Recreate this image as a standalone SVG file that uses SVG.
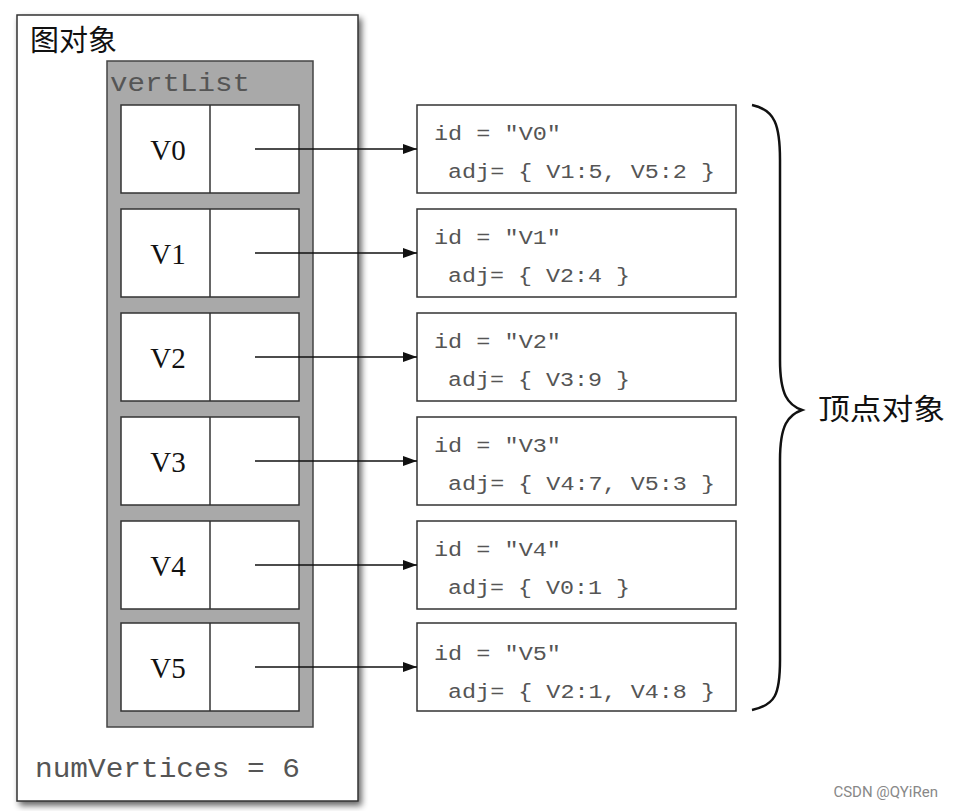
<svg xmlns="http://www.w3.org/2000/svg" width="953" height="811" viewBox="0 0 953 811">
<defs>
<style>
.cell{fill:#fff;stroke:#333;stroke-width:1.5}
.vl{font-family:"Liberation Serif",serif;font-size:29px;fill:#111;text-anchor:middle}
.mono{font-family:"Liberation Mono",monospace;font-size:20px;fill:#555}
.cn{font-family:"Noto Sans CJK SC",sans-serif;font-size:29px;fill:#111}
.ob{fill:#fff;stroke:#333;stroke-width:1.5}
</style>
<marker id="ah" markerWidth="14" markerHeight="10" refX="14" refY="5" orient="auto" markerUnits="userSpaceOnUse"><path d="M0,0L14,5L0,10z" fill="#111"/></marker>
<filter id="sh" x="-10%" y="-10%" width="120%" height="120%"><feGaussianBlur in="SourceAlpha" stdDeviation="3"/><feOffset dx="3" dy="4"/><feComponentTransfer><feFuncA type="linear" slope="0.6"/></feComponentTransfer><feMerge><feMergeNode/><feMergeNode in="SourceGraphic"/></feMerge></filter>
</defs>
<rect width="953" height="811" fill="#fff"/>
<g id="graph">
<rect x="17" y="15" width="341" height="786" fill="#fff" stroke="#333" stroke-width="1.5" filter="url(#sh)"/>
<text x="30" y="51" class="cn">图对象</text>
<rect x="107" y="61" width="206" height="666" fill="#a9a9a9" stroke="#444" stroke-width="1.5"/>
<text x="110" y="91" class="mono" style="font-size:26px" textLength="140" lengthAdjust="spacingAndGlyphs">vertList</text>
<text x="35" y="777" class="mono" style="font-size:28px" textLength="265" lengthAdjust="spacingAndGlyphs">numVertices = 6</text>
</g>
<g id="cell0"><rect x="121" y="105" width="178" height="88" class="cell"/><line x1="210" y1="105" x2="210" y2="193" stroke="#333" stroke-width="1.5"/><text x="168" y="160" class="vl">V0</text></g>
<g id="cell1"><rect x="121" y="209" width="178" height="88" class="cell"/><line x1="210" y1="209" x2="210" y2="297" stroke="#333" stroke-width="1.5"/><text x="168" y="264" class="vl">V1</text></g>
<g id="cell2"><rect x="121" y="313" width="178" height="88" class="cell"/><line x1="210" y1="313" x2="210" y2="401" stroke="#333" stroke-width="1.5"/><text x="168" y="368" class="vl">V2</text></g>
<g id="cell3"><rect x="121" y="417" width="178" height="88" class="cell"/><line x1="210" y1="417" x2="210" y2="505" stroke="#333" stroke-width="1.5"/><text x="168" y="472" class="vl">V3</text></g>
<g id="cell4"><rect x="121" y="521" width="178" height="88" class="cell"/><line x1="210" y1="521" x2="210" y2="609" stroke="#333" stroke-width="1.5"/><text x="168" y="576" class="vl">V4</text></g>
<g id="cell5"><rect x="121" y="623" width="178" height="88" class="cell"/><line x1="210" y1="623" x2="210" y2="711" stroke="#333" stroke-width="1.5"/><text x="168" y="678" class="vl">V5</text></g>
<g id="v0"><rect x="417" y="105" width="319" height="88" class="ob"/><text x="434" y="140" class="mono" textLength="127" lengthAdjust="spacingAndGlyphs">id = "V0"</text><text x="448" y="178" class="mono" textLength="267" lengthAdjust="spacingAndGlyphs">adj= { V1:5, V5:2 }</text></g>
<g id="v1"><rect x="417" y="209" width="319" height="88" class="ob"/><text x="434" y="244" class="mono" textLength="127" lengthAdjust="spacingAndGlyphs">id = "V1"</text><text x="448" y="282" class="mono" textLength="182" lengthAdjust="spacingAndGlyphs">adj= { V2:4 }</text></g>
<g id="v2"><rect x="417" y="313" width="319" height="88" class="ob"/><text x="434" y="348" class="mono" textLength="127" lengthAdjust="spacingAndGlyphs">id = "V2"</text><text x="448" y="386" class="mono" textLength="182" lengthAdjust="spacingAndGlyphs">adj= { V3:9 }</text></g>
<g id="v3"><rect x="417" y="417" width="319" height="88" class="ob"/><text x="434" y="452" class="mono" textLength="127" lengthAdjust="spacingAndGlyphs">id = "V3"</text><text x="448" y="490" class="mono" textLength="267" lengthAdjust="spacingAndGlyphs">adj= { V4:7, V5:3 }</text></g>
<g id="v4"><rect x="417" y="521" width="319" height="88" class="ob"/><text x="434" y="556" class="mono" textLength="127" lengthAdjust="spacingAndGlyphs">id = "V4"</text><text x="448" y="594" class="mono" textLength="182" lengthAdjust="spacingAndGlyphs">adj= { V0:1 }</text></g>
<g id="v5"><rect x="417" y="623" width="319" height="88" class="ob"/><text x="434" y="660" class="mono" textLength="127" lengthAdjust="spacingAndGlyphs">id = "V5"</text><text x="448" y="698" class="mono" textLength="267" lengthAdjust="spacingAndGlyphs">adj= { V2:1, V4:8 }</text></g>
<g id="connectors" stroke="#111" stroke-width="1.5" fill="none">
<line x1="255" y1="149" x2="417" y2="149" marker-end="url(#ah)"/>
<line x1="255" y1="253" x2="417" y2="253" marker-end="url(#ah)"/>
<line x1="255" y1="357" x2="417" y2="357" marker-end="url(#ah)"/>
<line x1="255" y1="461" x2="417" y2="461" marker-end="url(#ah)"/>
<line x1="255" y1="565" x2="417" y2="565" marker-end="url(#ah)"/>
<line x1="255" y1="667" x2="417" y2="667" marker-end="url(#ah)"/>
<path d="M752,105 C775,110 780,125 780,160 L780,360 C780,395 788,405 802,410 C788,415 780,425 780,460 L780,660 C780,695 775,705 752,710" stroke-width="2.5"/>
</g>
<g id="label"><text x="818" y="420" class="cn" textLength="127" lengthAdjust="spacingAndGlyphs">顶点对象</text></g>
<text x="938" y="797" font-family="Roboto,sans-serif" font-size="15" fill="#888" text-anchor="end">CSDN @QYiRen</text>
</svg>
